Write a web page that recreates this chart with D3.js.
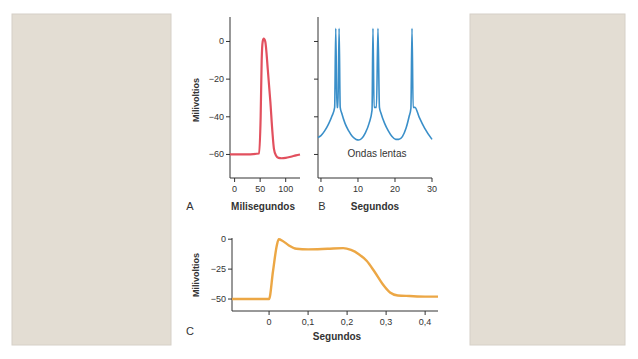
<!DOCTYPE html>
<html>
<head>
  <title>Potenciales de acción</title>
  <script src="https://d3js.org/d3.v7.min.js"></script>
  <style>
    body { margin: 0; background: #fff; }
    text { font-family: "Liberation Sans", Arial, sans-serif; fill: #333; }
  </style>
</head>
<body>
  <div id="chart"></div>
  <script>
    // Panel A: nerve spike (ms, mV)
    const spikeTime = [-9, 20, 48, 51, 53, 55, 57, 60, 65, 70, 74, 77, 81, 86, 92, 100, 110, 120, 128];
    const spikeMv   = [-60, -60, -59.5, -40, -10, 0, 1.5, 0, -15, -32, -48, -57, -60.5, -61.8, -62, -61.8, -61.2, -60.5, -60];

    // Panel B: slow waves with bursts (s, mV)
    const waveTime = [-0.8, 0, 1, 2, 3, 3.7, 4.0, 4.3, 4.6, 4.9, 5.2, 5.6, 6.5, 7.5, 8.5, 9.5, 10.2, 11, 12, 13, 13.8,
                      14.05, 14.35, 14.65, 15.0, 15.4, 15.8, 16.2, 17.2, 18.2, 19.2, 20.2, 21, 22, 23, 23.8, 24.3, 24.6, 24.9, 25.4, 26.5, 28, 30];
    const waveMv   = [-51, -50, -47.5, -44, -39.5, -35, 7, -35, -35, 7, -35, -38, -43.5, -47.5, -50.5, -52, -52.3, -51.5, -48.5, -43.5, -36.5,
                      7, -35, -35, -35, 7, -35, -38, -43.5, -47.5, -50.5, -52, -52, -50.5, -46, -40, -35.5, 7, -35, -35, -40, -46, -52];

    // Panel C: cardiac plateau (s, mV)
    const heartTime = [-0.095, -0.02, 0, 0.01, 0.02, 0.025, 0.035, 0.05, 0.07, 0.1, 0.15, 0.19, 0.21, 0.23, 0.25, 0.27, 0.29, 0.31, 0.33, 0.36, 0.4, 0.433];
    const heartMv   = [-50, -50, -50, -27, -5, 0, -1.5, -5, -8, -8.5, -8, -7.5, -9, -12.5, -18, -27, -37, -44.5, -47, -47.5, -48, -48];

    const ticksA = [0, 50, 100];
    const ticksB = [0, 10, 20, 30];
    const ticksC = [0, 0.1, 0.2, 0.3, 0.4];
    const mvTicksAB = [0, -20, -40, -60];
    const mvTicksC = [0, -25, -50];

    const W = 638, H = 359;
    const svg = d3.select("#chart").append("svg")
      .attr("width", W)
      .attr("height", H);

    // beige side panels
    [[12, 171], [470, 625]].forEach(p => {
      svg.append("rect")
        .attr("x", p[0]).attr("y", 14)
        .attr("width", p[1] - p[0]).attr("height", 331)
        .attr("fill", "#e3ddd3")
        .attr("stroke", "#d6d0c7")
        .attr("stroke-width", 1);
    });

    function drawAxes(g, x, y, xTicks, yTicks, fmtX, showYLabels) {
      const xr = x.range(), yr = y.range();
      g.append("line")
        .attr("x1", xr[0]).attr("x2", xr[0])
        .attr("y1", yr[0]).attr("y2", yr[1])
        .attr("stroke", "#333").attr("stroke-width", 1);
      g.append("line")
        .attr("x1", xr[0]).attr("x2", xr[1])
        .attr("y1", yr[0]).attr("y2", yr[0])
        .attr("stroke", "#333").attr("stroke-width", 1);

      yTicks.forEach(v => {
        g.append("line")
          .attr("x1", xr[0] - 4).attr("x2", xr[0])
          .attr("y1", y(v)).attr("y2", y(v))
          .attr("stroke", "#333");
        if (showYLabels) {
          g.append("text")
            .attr("x", xr[0] - 6).attr("y", y(v) + 3)
            .attr("text-anchor", "end")
            .attr("font-size", 9)
            .text(v === 0 ? "0" : "\u2212" + Math.abs(v));
        }
      });
      xTicks.forEach(v => {
        g.append("line")
          .attr("x1", x(v)).attr("x2", x(v))
          .attr("y1", yr[0]).attr("y2", yr[0] + 4)
          .attr("stroke", "#333");
        g.append("text")
          .attr("x", x(v)).attr("y", yr[0] + 14)
          .attr("text-anchor", "middle")
          .attr("font-size", 9)
          .text(fmtX(v));
      });
    }

    function drawLine(g, x, y, xs, ys, color, width) {
      const pts = xs.map((t, i) => [t, ys[i]]);
      g.append("path")
        .datum(pts)
        .attr("fill", "none")
        .attr("stroke", color)
        .attr("stroke-width", width)
        .attr("stroke-linejoin", "round")
        .attr("d", d3.line().x(d => x(d[0])).y(d => y(d[1])).curve(d3.curveMonotoneX));
    }

    function label(txt, x, y, size, bold, rotate) {
      const t = svg.append("text")
        .attr("text-anchor", "middle")
        .attr("font-size", size)
        .attr("font-weight", bold ? "bold" : "normal")
        .text(txt);
      if (rotate) t.attr("transform", `translate(${x},${y}) rotate(-90)`);
      else t.attr("x", x).attr("y", y);
    }

    // ---- Panel A
    const xA = d3.scaleLinear().domain([-9, 128]).range([230, 300]);
    const yA = d3.scaleLinear().domain([-72.5, 13]).range([178, 17]);
    const gA = svg.append("g");
    drawAxes(gA, xA, yA, ticksA, mvTicksAB, d => d, true);
    drawLine(gA, xA, yA, spikeTime, spikeMv, "#e2505e", 2.2);
    label("Milivoltios", 199, 100, 9, true, true);
    label("Milisegundos", 263, 210, 10, true);
    label("A", 190, 210, 11, false);

    // ---- Panel B
    const xB = d3.scaleLinear().domain([-0.8, 30]).range([318, 432]);
    const yB = d3.scaleLinear().domain([-72.5, 13]).range([178, 17]);
    const gB = svg.append("g");
    drawAxes(gB, xB, yB, ticksB, mvTicksAB, d => d, false);
    drawLine(gB, xB, yB, waveTime, waveMv, "#3a8fc9", 1.6);
    label("Ondas lentas", 377, 157, 10, false);
    label("Segundos", 375, 210, 10, true);
    label("B", 322, 210, 11, false);

    // ---- Panel C
    const xC = d3.scaleLinear().domain([-0.095, 0.433]).range([232, 438]);
    const yC = d3.scaleLinear().domain([-60, 1]).range([311, 238]);
    const gC = svg.append("g");
    drawAxes(gC, xC, yC, ticksC, mvTicksC, d => d === 0 ? "0" : d3.format(".1f")(d).replace(".", ","), true);
    drawLine(gC, xC, yC, heartTime, heartMv, "#eca745", 2.4);
    label("Milivoltios", 199, 275, 9, true, true);
    label("Segundos", 337, 340, 10, true);
    label("C", 190, 335, 11, false);
  </script>
</body>
</html>
